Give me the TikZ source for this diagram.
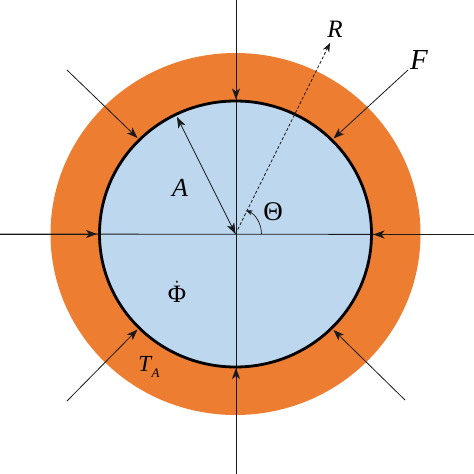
\documentclass[tikz,border=0pt]{standalone}
\usepackage{fontspec}
\setmainfont{Liberation Serif}
\usetikzlibrary{arrows.meta}
\definecolor{ring}{HTML}{ED7D31}
\definecolor{core}{HTML}{BDD7EE}
\definecolor{ink}{HTML}{1A1A1A}
\begin{document}
\begin{tikzpicture}[x=1pt,y=1pt,
  tipstyle/.style={-{Stealth[length=11pt,width=8pt,inset=3pt]}},
  force/.style={draw=ink, line width=0.8pt, tipstyle},
  axisline/.style={draw=ink, line width=0.8pt},
  lbl/.style={inner sep=0pt, text=black}]
\useasboundingbox (0,0) rectangle (474,-474);
\coordinate (C) at (235.5,-234);
\fill[ring] (C) ellipse [x radius=185, y radius=181];
\fill[core] (C) ellipse [x radius=136, y radius=133];
% axes
\coordinate (axL) at (0,-234);
\coordinate (axR) at (474,-234.5);
\coordinate (axT) at (236,0);
\coordinate (axB) at (236,-474);
\draw[axisline] (axL) -- (axR);
\draw[axisline] (axT) -- (axB);
% inner boundary
\draw[black, line width=2.8pt] (C) ellipse [x radius=136, y radius=133];
% force arrows
\coordinate (tT) at (236,-99.5);
\coordinate (tB) at (236,-368);
\coordinate (tL) at (97,-234);
\coordinate (tR) at (373.5,-234.5);
\draw[force] (axT) -- (tT);
\draw[force] (axB) -- (tB);
\draw[force] (axL) -- (tL);
\draw[force] (axR) -- (tR);
\coordinate (sUL) at (67,-70);
\coordinate (sUR) at (408,-70);
\coordinate (sLL) at (67,-401);
\coordinate (sLR) at (405,-400);
\coordinate (tUL) at (137.5,-138);
\coordinate (tUR) at (333.5,-138.5);
\coordinate (tLL) at (137.5,-329.5);
\coordinate (tLR) at (333.5,-330);
\draw[force] (sUL) -- (tUL);
\draw[force] (sUR) -- (tUR);
\draw[force] (sLL) -- (tLL);
\draw[force] (sLR) -- (tLR);
% radius A
\coordinate (tA) at (177,-117);
\draw[draw=ink, line width=0.8pt, {Stealth[length=11pt,width=8pt,inset=3pt]}-{Stealth[length=11pt,width=8pt,inset=3pt]}] (C) -- (tA);
% R dashed
\coordinate (tRr) at (330,-43);
\draw[draw=ink, line width=0.8pt, dash pattern=on 3pt off 2pt, -{Stealth[length=9pt,width=7pt,inset=3pt]}] (C) -- (tRr);
% theta arc
\draw[draw=ink, line width=0.7pt, -{Stealth[length=6.5pt,width=5pt,inset=2pt]}] ([xshift=26pt]C) arc[start angle=0, end angle=66, radius=26];
% labels
\node[lbl, font=\fontsize{25}{25}\selectfont] (lR) at (335,-29) {\textit{R}};
\node[lbl, font=\fontsize{29}{29}\selectfont] (lF) at (419,-60) {\textit{F}};
\node[lbl, font=\fontsize{26}{26}\selectfont] (lA) at (180,-188) {\textit{A}};
\node[lbl, font=\fontsize{27}{27}\selectfont] (lTh) at (273,-212) {Θ};
\node[lbl, font=\fontsize{25}{25}\selectfont] (lPhi) at (177,-292) {$\dot{\hbox{Φ}}$};
\node[lbl, font=\fontsize{23}{23}\selectfont] (lT) at (149,-367) {\textit{T}\kern-1pt\raisebox{-6pt}{\fontsize{13}{13}\selectfont\textit{A}}};
\end{tikzpicture}
\end{document}
